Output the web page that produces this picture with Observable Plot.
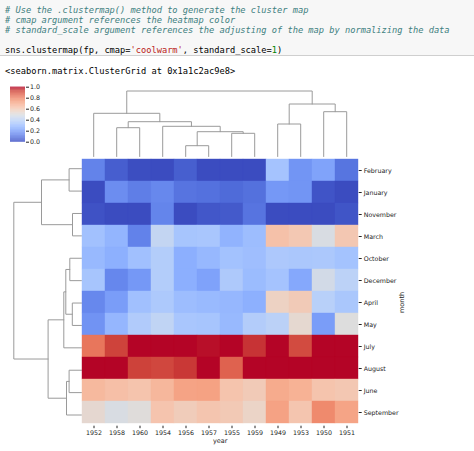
<!DOCTYPE html>
<html>
<head>
<meta charset="utf-8">
<script src="https://cdn.jsdelivr.net/npm/d3@7"></script>
<script src="https://cdn.jsdelivr.net/npm/@observablehq/plot@0.6"></script>
<style>
  html, body { margin: 0; padding: 0; background: #fff; }
  #fig { position: relative; width: 474px; height: 451px; overflow: hidden; }
  #fig > svg { position: absolute; left: 0; top: 0; }
  .cell-in { position: absolute; left: -1px; top: -1px; width: 480px; height: 57px;
             background: #f7f7f7; border: 1px solid #cfcfcf; box-sizing: border-box; }
  .code { position: absolute; left: 5px; font-family: "DejaVu Sans Mono", monospace;
          font-size: 8.7px; line-height: 10px; white-space: pre; color: #000; }
  .cm { color: #408080; font-style: italic; }
  .str { color: #ba2121; }
  .num { color: #008000; }
</style>
</head>
<body>
<div id="fig">
  <div class="cell-in"></div>
  <div class="code cm" style="top:5px"># Use the .clustermap() method to generate the cluster map</div>
  <div class="code cm" style="top:15px"># cmap argument references the heatmap color</div>
  <div class="code cm" style="top:25px"># standard_scale argument references the adjusting of the map by normalizing the data</div>
  <div class="code" style="top:45px">sns.clustermap(fp, cmap=<span class="str">'coolwarm'</span>, standard_scale=<span class="num">1</span>)</div>
  <div class="code" style="top:65.5px">&lt;seaborn.matrix.ClusterGrid at 0x1a1c2ac9e8&gt;</div>
</div>
<script>
// ---- data ----
const years = ["1952","1958","1960","1954","1956","1957","1955","1959","1949","1953","1950","1951"];
const months = ["February","January","November","March","October","December","April","May","July","August","June","September"];
// standard-scaled values, one row per month (in months order), columns in years order
const valueRows = [
  [0.127,0.041,0.004,0.000,0.042,0.000,0.000,0.000,0.318,0.174,0.214,0.093],
  [0.000,0.154,0.116,0.140,0.092,0.084,0.069,0.083,0.182,0.174,0.018,0.000],
  [0.014,0.000,0.000,0.132,0.000,0.024,0.031,0.092,0.000,0.000,0.000,0.019],
  [0.310,0.267,0.125,0.412,0.324,0.331,0.260,0.295,0.636,0.609,0.482,0.611],
  [0.282,0.251,0.306,0.360,0.246,0.277,0.313,0.300,0.341,0.337,0.339,0.315],
  [0.324,0.138,0.181,0.360,0.246,0.211,0.344,0.290,0.318,0.228,0.464,0.389],
  [0.141,0.195,0.306,0.342,0.296,0.283,0.275,0.249,0.568,0.598,0.375,0.333],
  [0.169,0.272,0.353,0.404,0.331,0.325,0.282,0.359,0.386,0.533,0.196,0.500],
  [0.831,0.928,1.000,1.000,1.000,0.988,1.000,0.949,1.000,0.913,1.000,1.000],
  [1.000,1.000,0.931,0.921,0.944,1.000,0.870,1.000,1.000,1.000,1.000,1.000],
  [0.662,0.641,0.625,0.667,0.725,0.729,0.626,0.599,0.705,0.685,0.625,0.611],
  [0.535,0.482,0.509,0.623,0.592,0.620,0.603,0.558,0.727,0.620,0.786,0.722]
];
// dendrogram merges: [childA, childB, distance]; "#k" refers to merge k
const colMerges = [
  ["1958","1960",28.8],["1956","1957",10.8],["1955","1959",23.2],["#1","#2",24.8],
  ["1954","#3",30.2],["#0","#4",34.8],["1952","#5",43.2],["1949","1953",32.5],
  ["1950","1951",44.8],["#7","#8",52.5],["#6","#9",65.5]
];
const rowMerges = [
  ["January","November",12.4],["February","#0",15],["October","December",9.2],["April","May",11.7],
  ["#2","#3",15.7],["March","#4",17.7],["#1","#5",33.4],["July","August",9],
  ["June","September",12.4],["#7","#8",40],["#6","#9",67.7]
];
const colorbarTicks = [0, 0.2, 0.4, 0.6, 0.8, 1.0];
// matplotlib "coolwarm" colormap stops
const coolwarmStops = [0,0.0625,0.125,0.1875,0.25,0.3125,0.375,0.4375,0.5,0.5625,0.625,0.6875,0.75,0.8125,0.875,0.9375,1];
const coolwarmColors = ["#3b4cc0","#4d68d7","#6282ea","#779af7","#8db0fe","#a3c2fe","#b8d0f9","#cad8ee","#dddddd",
  "#ecd3c5","#f5c4ad","#f7b194","#f49a7b","#ec7f63","#de604d","#cb3e38","#b40426"];

// ---- build ----
const cells = [];
months.forEach((m, i) => years.forEach((y, j) => cells.push({month: m, year: y, value: valueRows[i][j]})));

function treeSegments(order, merges) {
  const nodes = [];
  const get = (k) => k.startsWith("#") ? nodes[+k.slice(1)] : {pos: order.indexOf(k) + 0.5, h: 0};
  const pts = [];
  merges.forEach(([a, b, h], id) => {
    const A = get(a), B = get(b);
    pts.push({id, pos: A.pos, h: A.h}, {id, pos: A.pos, h}, {id, pos: B.pos, h}, {id, pos: B.pos, h: B.h});
    nodes.push({pos: (A.pos + B.pos) / 2, h});
  });
  return pts;
}
const colPts = treeSegments(years, colMerges);
const rowPts = treeSegments(months, rowMerges);
const colMax = d3.max(colMerges, d => d[2]) * 1.05;
const rowMax = d3.max(rowMerges, d => d[2]) * 1.05;

const W = 474, H = 451;
const L = 81.7, R = 357.7, T = 157, B = 425.7;
const colorScale = {type: "linear", domain: coolwarmStops, range: coolwarmColors, clamp: true};
const baseStyle = {background: "transparent", fontFamily: "DejaVu Sans, sans-serif", fontSize: "6.3px", color: "#222", overflow: "visible"};
const treeStroke = "#9a9a9a";

const heat = Plot.plot({
  width: W, height: H,
  marginLeft: L, marginRight: W - R, marginTop: T, marginBottom: H - B,
  style: baseStyle,
  x: {type: "band", domain: years, padding: 0, axis: "bottom", tickSize: 2.5, tickPadding: 1.8, label: null},
  y: {type: "band", domain: months, padding: 0, axis: "right", tickSize: 3, tickPadding: 2.5, label: null},
  color: colorScale,
  marks: [
    Plot.cell(cells, {x: "year", y: "month", fill: "value", stroke: "value", strokeWidth: 0.4}),
    Plot.text(["year"], {text: d => d, frameAnchor: "bottom", dy: 17, fontSize: 6.5, fill: "#222"}),
    Plot.text(["month"], {text: d => d, frameAnchor: "right", dx: 44, rotate: -90, fontSize: 6.5, fill: "#222"})
  ]
});

const colTree = Plot.plot({
  width: W, height: H,
  marginLeft: L, marginRight: W - R, marginTop: 156 - 65.5 * 1.05, marginBottom: H - 156,
  style: baseStyle,
  x: {domain: [0, years.length], axis: null},
  y: {domain: [0, colMax], axis: null},
  marks: [Plot.line(colPts, {x: "pos", y: "h", z: "id", stroke: treeStroke, strokeWidth: 1})]
});

const rowTree = Plot.plot({
  width: W, height: H,
  marginLeft: 81 - 67.7 * 1.05, marginRight: W - 81, marginTop: T, marginBottom: H - B,
  style: baseStyle,
  x: {domain: [rowMax, 0], axis: null},
  y: {domain: [0, months.length], axis: null},
  marks: [Plot.line(rowPts, {x: "h", y: "pos", z: "id", stroke: treeStroke, strokeWidth: 1})]
});

const step = 0.005;
const grad = d3.range(0, 1, step);
const cbar = Plot.plot({
  width: W, height: H,
  marginLeft: 10, marginRight: W - 25, marginTop: 86.7, marginBottom: H - 141.7,
  style: baseStyle,
  x: {domain: [0, 1], axis: null},
  y: {domain: [0, 1], axis: "right", ticks: colorbarTicks, tickFormat: d3.format(".1f"), tickSize: 3, tickPadding: 1.5, label: null},
  color: colorScale,
  marks: [Plot.rect(grad, {x1: d => 0, x2: d => 1, y1: d => d, y2: d => Math.min(1, d + step * 1.3), fill: d => d + step / 2})]
});

const fig = document.getElementById("fig");
[rowTree, colTree, cbar, heat].forEach(s => fig.appendChild(s));
</script>
</body>
</html>
